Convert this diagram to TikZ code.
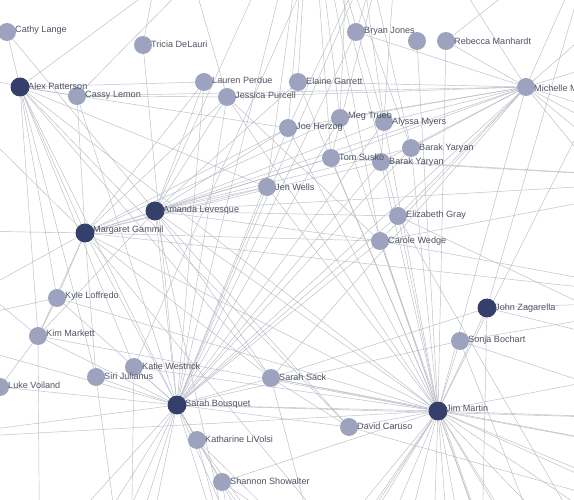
\documentclass[tikz,border=0pt]{standalone}
\usepackage{fontspec}
\setmainfont{Liberation Sans}
\pgfdeclarelayer{bg}\pgfsetlayers{bg,main}
\definecolor{darkn}{HTML}{34406B}
\definecolor{lightn}{HTML}{9DA3BE}
\definecolor{edgec}{HTML}{BABDC5}
\definecolor{labc}{HTML}{4F5461}
\begin{document}
\begin{tikzpicture}[x=1pt,y=-1pt,
 person/.style={circle,minimum size=18pt,inner sep=0pt,fill=lightn},
 hub/.style={circle,minimum size=19pt,inner sep=0pt,fill=darkn},
 lbl/.style={anchor=west,text=labc,font=\fontsize{9.1}{10}\selectfont,inner sep=0pt},
 edge/.style={draw=edgec,line width=0.45pt}]
\useasboundingbox (0,0) rectangle (574,500);
\foreach \n/\x/\y/\s in {
 cl/7/32/person, td/143/45/person, ap/20/87/hub, cy/77/96/person,
 lp/204/82/person, jp/227/97/person, eg/298/82/person, bj/356/32/person,
 un/417/41/person, rm/446/41/person, mm/526/87/person, mt/340/118/person,
 am/384/122/person, jh/288/128/person, byA/411/148/person, ts/331/158/person,
 byB/381/162/person, jw/267/187/person, al/155/211/hub, mg/85/233/hub,
 ey/398/216/person, cw/380/241/person, kl/57/298/person, jz/487/308/hub,
 sbo/460/341/person, km/38/336/person, kw/134/367/person, sj/96/377/person,
 lv/0/387/person, ss/271/378/person, sb/177/405/hub, jm/438/411/hub,
 dc/349/427/person, kv/197/440/person, sh/222/482/person}
 \node[\s] (\n) at (\x,\y) {};
\foreach \n/\x/\y/\t in {
 cl/7/30/Cathy Lange, td/143/44/Tricia DeLauri, ap/20/86/Alex Patterson,
 cy/77/95/Cassy Lemon, lp/204/80/Lauren Perdue, jp/227/95/Jessica Purcell,
 eg/298/81/Elaine Garrett, bj/356/31/Bryan Jones, rm/446/41/Rebecca Manhardt,
 mm/526/88/Michelle M, mt/340/116/Meg Trueb, am/384/122/Alyssa Myers,
 jh/288/127/Joe Herzog, byA/411/148/Barak Yaryan, ts/331/157/Tom Susko,
 byB/381/162/Barak Yaryan, jw/267/187/Jen Wells, al/155/210/Amanda Levesque,
 mg/85/230/Margaret Gammil, ey/398/215/Elizabeth Gray, cw/380/241/Carole Wedge,
 kl/57/296/Kyle Loffredo, jz/487/308/John Zagarella, sbo/460/340/Sonja Bochart,
 km/38/333/Kim Markett, kw/134/366/Katie Westrick, sj/96/376/Siri Julianus,
 lv/0/385/Luke Voiland, ss/271/377/Sarah Sack, sb/177/404/Sarah Bousquet,
 jm/438/408/Jim Martin, dc/349/426/David Caruso, kv/197/439/Katharine LiVolsi,
 sh/222/481/Shannon Showalter}
 \node[lbl] (\n-l) at (\x+8,\y) {\t};
\coordinate (T1) at (260,-90);
\coordinate (T2) at (310,-130);
\coordinate (T3) at (400,-110);
\coordinate (T4) at (600,-80);
\coordinate (T5) at (170,-100);
\coordinate (T6) at (350,-120);
\coordinate (T7) at (660,-30);
\coordinate (R1) at (680,40);
\coordinate (R2) at (700,180);
\coordinate (R3) at (700,300);
\coordinate (R4) at (700,420);
\coordinate (R5) at (680,520);
\coordinate (R6) at (700,360);
\coordinate (R7) at (700,140);
\coordinate (R8) at (700,230);
\coordinate (R9) at (700,460);
\coordinate (B1) at (40,620);
\coordinate (B2) at (130,630);
\coordinate (B3) at (250,640);
\coordinate (B4) at (340,640);
\coordinate (B5) at (430,650);
\coordinate (B6) at (520,640);
\coordinate (B7) at (620,600);
\coordinate (B8) at (300,620);
\coordinate (B9) at (480,640);
\coordinate (B10) at (570,620);
\coordinate (B11) at (380,640);
\coordinate (B12) at (600,680);
\coordinate (B13) at (660,560);
\coordinate (B14) at (700,520);
\coordinate (B15) at (460,700);
\coordinate (B16) at (540,700);
\coordinate (B17) at (320,600);
\coordinate (B18) at (0,600);
\coordinate (B19) at (70,640);
\coordinate (B20) at (110,620);
\coordinate (B21) at (280,640);
\coordinate (L1) at (-90,60);
\coordinate (L2) at (-90,230);
\coordinate (L3) at (-90,330);
\coordinate (L4) at (-90,440);
\begin{pgfonlayer}{bg}
\fill[white] (0,0) rectangle (574,500);
\clip (0,0) rectangle (574,500);
\foreach \a/\b in {
 ap/cl, ap/lp, ap/jh, ap/cy, ap/mg, ap/kl, ap/km, ap/sj, ap/kw, ap/sb, ap/ss,
 ap/jm, ap/dc, ap/jw, cl/al, td/sb, cy/jp, cy/mm, cy/mg, cy/sb,
 lp/al, lp/sb, lp/mg, jp/al, jp/mg, jp/sb, jp/jm, jp/mm, jp/cw,
 eg/mm, eg/al, eg/jm, bj/mm, bj/sb, un/jm, rm/jm, rm/mm,
 mm/mt, mm/am, mm/byA, mm/ts, mm/byB, mm/ey, mm/cw, mm/al, mm/sb, mm/jm,
 mm/jh, mm/ss, mt/mg, mt/sb, mt/jm, am/jm, am/al, am/sb,
 jh/al, jh/mg, jh/jm, jh/sb, byA/al, byA/jm, byA/sb, ts/al, ts/mg, ts/jm,
 byB/mg, byB/sb, byB/jm, jw/al, jw/mg, jw/sb, jw/jm,
 al/mg, al/sb, al/jm, al/ss, al/dc, al/ey, al/km, al/cw,
 mg/cw, mg/kl, mg/km, mg/sb, mg/jm, mg/ss, mg/sj,
 ey/sb, ey/jm, cw/sb, cw/jm, kl/jm, kl/sb, kl/km, jz/ss, jz/jm,
 sbo/jm, sbo/sb, km/jm, km/sb, km/lv, kw/sb, kw/jm, sj/sb, lv/sb,
 ss/dc, ss/jm, ss/sb, sb/kv, sb/sh, sb/jm, sb/dc, dc/jm, sh/jm,
 T1/ap, T1/cy,
 T2/jh, T2/ts, T2/eg, T2/jw, T2/ey, T2/cw, T2/al, T2/mt, T2/am, T2/byA, T2/sb,
 T3/mm, T3/bj, T3/jh, T3/ts, T3/byB, T3/sb, T6/mt, T6/am, T6/byA, T6/kw,
 T4/mm, T4/rm, T4/jz, T5/td, T5/jp, T7/mm, T7/jm,
 R1/mm, R2/mm, R2/byB, R2/ts, R2/cw, R2/al, R3/mm, R3/cw, R3/jz, R3/sbo, R3/mg,
 R4/jm, R4/sbo, R4/sb, R5/jm, R5/dc, R6/jm, R6/jz, R6/ey,
 R7/mm, R8/mm, R9/jm, R9/ss,
 B1/sb, B1/km, B2/sb, B2/sj, B2/kw, B3/sb, B3/kv, B3/sh, B3/jm, B3/al,
 B4/jm, B4/sh, B4/kv, B4/ss, B5/jm, B5/mg, B6/jm, B6/cw, B7/jm, B7/ey,
 B8/jm, B8/sb, B9/jm, B9/jz, B10/jm, B10/sbo,
 B11/jm, B12/jm, B13/jm, B14/jm, B15/jm, B16/jm, B17/jm, B21/jm,
 B18/sb, B19/sb, B20/sb, B21/sb, B15/kv, B16/sh,
 L1/ap, L1/mg, L2/mg, L2/km, L3/mg, L3/kl, L3/sb, L4/sb, L4/jm}
 \draw[edge] (\a) -- (\b);
\end{pgfonlayer}
\end{tikzpicture}
\end{document}
